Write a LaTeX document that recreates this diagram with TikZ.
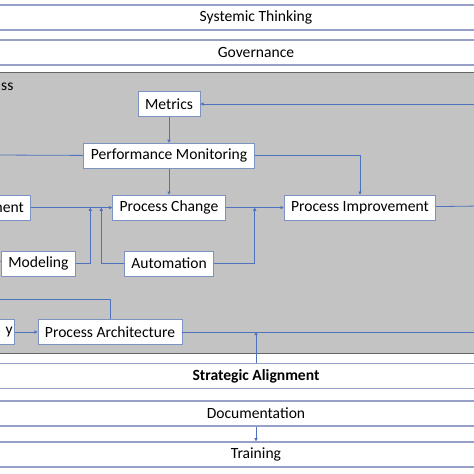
\documentclass[tikz,border=0pt]{standalone}
\usepackage{fontspec}
\setmainfont{Carlito}
\definecolor{LinkBlue}{RGB}{79, 114, 189}
\definecolor{FrameBlue}{RGB}{125, 145, 195}
\definecolor{BandLine}{RGB}{150, 160, 200}
\definecolor{PanelGray}{RGB}{195, 195, 195}
\usetikzlibrary{arrows.meta, positioning, shapes, calc}

\begin{document}
\begin{tikzpicture}[
        x=1pt, y=-1pt,
        node distance=26pt,
        box/.style={rectangle, draw=FrameBlue, fill=white, line width=0.8pt, minimum height=25pt, inner xsep=7pt, font=\fontsize{15.6}{18}\selectfont},
        band/.style={rectangle, draw=BandLine, fill=white, line width=1.4pt, minimum width=540pt, minimum height=25pt, font=\fontsize{15.6}{18}\selectfont},
        line/.style={draw=LinkBlue, -{Triangle[length=3.2pt, width=3.2pt]}, line width=0.8pt},
        link/.style={draw=LinkBlue, line width=0.8pt}
    ]
        \useasboundingbox (0,0) rectangle (474,474);
        \fill[white] (0,0) rectangle (474,474);
        \filldraw[fill=PanelGray, draw=gray!80!black] (-5,72) rectangle (480,353);
        \node [anchor=west, inner sep=0pt, font=\fontsize{15.6}{18}\selectfont] (tag) at (1,87) {ss};

        \node [band] (st) at (256,17.5) {Systemic Thinking};
        \node [band] (gov) at (256,52.5) {Governance};
        \node [band, font=\fontsize{15.6}{18}\selectfont\bfseries] (sa) at (256,376) {Strategic Alignment};
        \node [band] (doc) at (256,413.5) {Documentation};
        \node [band] (train) at (256,454.5) {Training};

        \node [box] (metrics) at (169,104) {Metrics};
        \node [box, below=of metrics] (pm) {Performance Monitoring};
        \node [box, below=of pm] (pc) {Process Change};
        \node [box, right=58pt of pc] (pi) {Process Improvement};
        \node [box, left=81pt of pc] (ment) {ment};
        \node [box, below=30pt of pc] (auto) {Automation};
        \node [box, left=48pt of auto] (model) {Modeling};
        \node [box] (pa) at (110,332) {Process Architecture};
        \node [box, text width=22pt, align=right, inner xsep=1.5pt, left=23pt of pa] (strat) {y};

        \coordinate (rm) at (480,104);
        \coordinate (lp) at (-5,155);
        \coordinate (lm) at (-5,261);
        \coordinate (rp) at (480,206);
        \coordinate (lq) at (-5,299);
        \coordinate (rq) at (480,332);
        \coordinate (j1) at ([xshift=-22pt]pc.west);
        \coordinate (j2) at ([xshift=-11pt]pc.west);
        \coordinate (j3) at ([xshift=29pt]pc.east);

        \path [line] (rm) -- (metrics);
        \path [line] (metrics) -- (pm);
        \path [link] (lp) -- (pm);
        \path [line] (pm) -| (pi);
        \path [line] (pm) -- (pc);
        \path [line] (ment) -- (pc);
        \path [link] (lm) -- (model);
        \path [line] (model) -| (j1);
        \path [line] (auto) -| (j2);
        \path [line] (auto) -| (j3);
        \path [line] (pc) -- (pi);
        \path [link] (pi) -- (rp);
        \path [link] (lq) -| (pa);
        \path [line] (strat) -- (pa);
        \path [link] (pa) -- (rq);
        \path [line] (sa) -- (sa |- pa);
        \path [line] (doc) -- (train);
    \end{tikzpicture}
\end{document}
